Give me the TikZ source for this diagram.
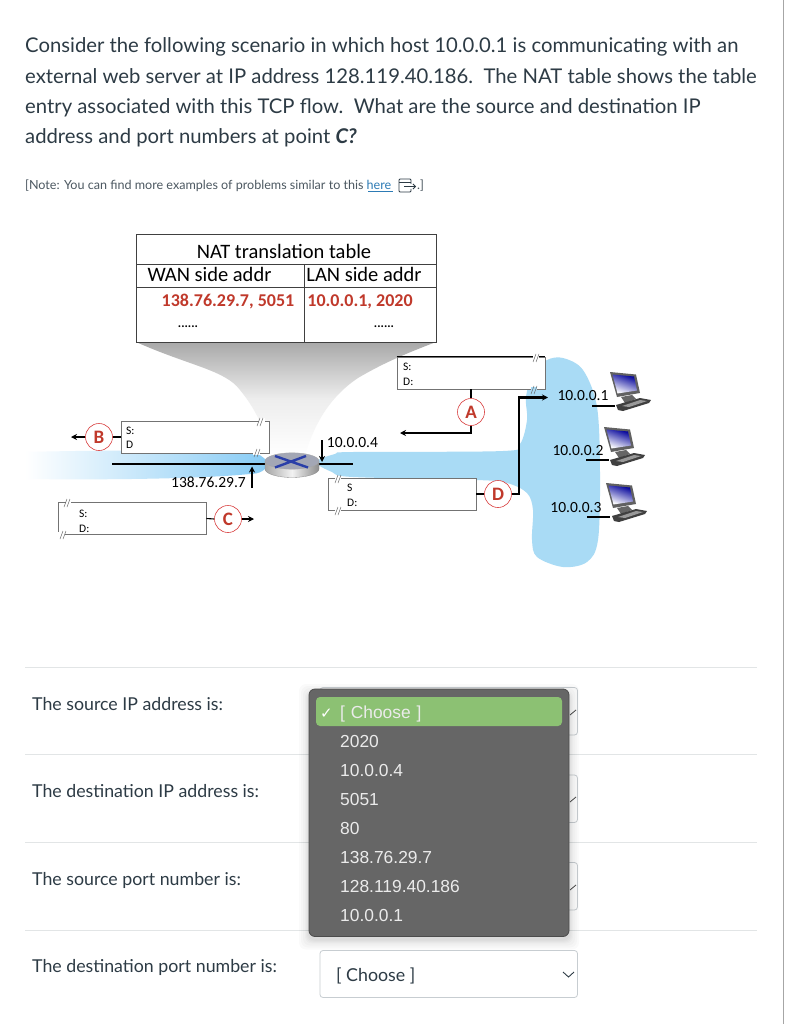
\documentclass[tikz,border=0pt]{standalone}
\usepackage{fontspec}
\setmainfont{Lato}
\newfontfamily\calib{Carlito}
\newfontfamily\popfont{Liberation Sans}
\newfontfamily\chkfont{DejaVu Sans}
\usetikzlibrary{calc,arrows.meta,shapes.geometric}
\definecolor{ink}{HTML}{2D3B45}
\definecolor{natred}{HTML}{C0392B}
\definecolor{lanblue}{HTML}{A9DBF5}
\definecolor{wanblue}{HTML}{86CBF5}
\definecolor{sepgray}{HTML}{E2E5E6}
\definecolor{popgray}{HTML}{666666}
\definecolor{okgreen}{HTML}{8CC173}
\definecolor{selbd}{HTML}{C7CDD1}
\definecolor{linkblue}{HTML}{2D7BB5}
\definecolor{rtrtop}{HTML}{A3A7B5}
\definecolor{rtrx}{HTML}{2A3FA8}
\newcommand{\fs}[1]{\fontsize{#1}{#1}\selectfont}
\tikzset{
  para/.style={anchor=base west,inner sep=0pt,text=ink,font=\fs{20.28}},
  quest/.style={anchor=base west,inner sep=0pt,text=ink,font=\fs{17.76}},
  popitem/.style={anchor=base west,inner sep=0pt,text=white!92!black,font=\popfont\fs{17.4}},
  tbl/.style={inner sep=0pt,text=black,font=\calib\fs{20.5}},
  tblred/.style={inner sep=0pt,text=natred,font=\calib\bfseries\fs{18}},
  addr/.style={inner sep=0pt,text=black,font=\calib\fs{15.5}},
  tiny/.style={inner sep=0pt,anchor=base west,text=black,font=\calib\fs{11.5}},
  packet/.style={draw=black!55,line width=.7pt,fill=white,inner sep=0pt,minimum width=148pt,minimum height=32pt},
  pointlet/.style={circle,draw=red!70!white!85!black,line width=.6pt,fill=white,minimum size=27pt,inner sep=0pt,text=natred,font=\calib\bfseries\fs{19}},
  wire/.style={draw=black,line width=1.1pt},
  thick wire/.style={draw=black,line width=2pt},
  tip/.style={-{Stealth[length=6pt,width=6pt]}},
  brk/.style={draw=black!60,line width=.5pt},
  sel/.style={draw=selbd,line width=.8pt,rounded corners=3pt,fill=white},
  sep/.style={draw=sepgray,line width=1pt},
}
\newcommand{\brkmark}[2]{\draw[brk] (#1-2,#2+4)--(#1+1,#2-4) (#1+1,#2+4)--(#1+4,#2-4);}
\newcommand{\computer}[2]{%
 \begin{scope}[shift={(#1,#2)}]
  \fill[black!62] (0,0)--(26,2.5)--(30,21)--(7,25)--cycle;
  \shade[top color=blue!60!black,bottom color=white,shading angle=-20] (2.5,2.5)--(24,4.5)--(27,18.5)--(7.5,21.5)--cycle;
  \fill[black!60] (11,25)--(22,23)--(26,27)--(15,31)--cycle;
  \fill[black!75] (6,33)--(30,26)--(41,28)--(39,31)--(13,39)--(8,38)--cycle;
  \fill[black!40] (12,34)--(30,28)--(37,29)--(19,35)--cycle;
 \end{scope}}
\begin{document}
\begin{tikzpicture}[x=1pt,y=-1pt]
\useasboundingbox (0,0) rectangle (785,1024);
\fill[white] (0,0) rectangle (785,1024);
% page edge
\draw[black!35,line width=1pt] (783.5,0)--(783.5,1024);
% question text
\node[para] (l1) at (25,52.5) {Consider the following scenario in which host 10.0.0.1 is communicating with an};
\node[para] (l2) at (25,83.5) {external web server at IP address 128.119.40.186.\ \ The NAT table shows the table};
\node[para] (l3) at (25,113.5) {entry associated with this TCP flow.\ \ What are the source and destination IP};
\node[para] (l4) at (25,144) {address and port numbers at point \textbf{\textit{C?}}};
\node[anchor=base west,inner sep=0pt,text=ink!85,font=\fs{12.57}] (note) at (25,190) {[Note: You can find more examples of problems similar to this \textcolor{linkblue}{here}};
\draw[linkblue,line width=.7pt] (368,191.5)--(393,191.5);
\draw[ink,line width=.8pt,rounded corners=1pt] (411,184)--(411,179)--(399,179)--(399,192)--(411,192)--(411,189);
\draw[ink,line width=.8pt] (399,182.5)--(411,182.5);
\draw[ink,line width=.8pt,-{Straight Barb[length=2.5pt,width=5pt]}] (404,186.5)--(416,186.5);
\node[anchor=base west,inner sep=0pt,text=ink!85,font=\fs{12.57}] (noteend) at (417,190) {.]};
% funnel
\shade[top color=black!34,bottom color=white,middle color=black!7] (136,342) .. controls (190,366) and (225,370) .. (240,390) .. controls (258,412) and (264,430) .. (272,455) -- (305,455) .. controls (312,432) and (325,400) .. (358,378) .. controls (385,362) and (410,352) .. (436,342) -- cycle;
% blue regions
\shade[left color=white,right color=wanblue] (25,452) .. controls (100,450) and (200,450) .. (255,452) .. controls (262,456) and (266,460) .. (270,463) .. controls (266,470) and (260,474) .. (250,474) .. controls (200,479) and (100,480) .. (25,479) -- cycle;
\fill[lanblue] plot[smooth cycle,tension=.55] coordinates {(316,462)(335,454)(353,452)(503,451)(520,444)(527,420)(526,397)(533,373)(547,360)(563,358)(583,370)(597,407)(600,473)(598,540)(587,562)(563,567)(537,557)(532,540)(533,510)(527,493)(507,483)(477,480)(353,477)(332,472)};
% table
\draw[black!75,line width=.8pt,fill=white] (136,234) rectangle (436,342);
\draw[black!75,line width=.8pt] (136,264.5)--(436,264.5) (136,287)--(436,287) (304,265)--(304,342);
\node[tbl] (title) at (284,251) {NAT translation table};
\node[tbl] (wan) at (209.5,274) {WAN side addr};
\node[tbl] (lan) at (364,274) {LAN side addr};
\node[tblred] (r1) at (228,301.5) {138.76.29.7, 5051};
\node[tblred] (r2) at (360,301.5) {10.0.0.1, 2020};
\node[inner sep=0pt,font=\calib\bfseries\fs{12.5}] (d1) at (188,327) {......};
\node[inner sep=0pt,font=\calib\bfseries\fs{12.5}] (d2) at (384,327) {......};
% links
\coordinate (wanend) at (112,464);
\coordinate (lanend) at (353,464);
\coordinate (rtrL) at (266,464);
\coordinate (rtrR) at (318,464);
\draw[thick wire,line width=2.2pt] (wanend)--(rtrL);
\draw[thick wire,line width=2.2pt] (rtrR)--(lanend);
% router
\node[inner sep=0pt,minimum width=54pt,minimum height=25pt] (router) at (292,465.5) {};
\shade[left color=black!35,right color=black!45,middle color=black!5,draw=black!45,line width=.3pt] (265,461) -- (265,469) arc[start angle=180,end angle=0,x radius=27,y radius=8.5] -- (319,461) -- cycle;
\fill[rtrtop,draw=black!35,line width=.3pt] (292,461) ellipse[x radius=27,y radius=8.2];
\draw[rtrx,line width=2.4pt] (275,456)--(308,467.5) (275,467.5)--(306,456);
% packets
\node[packet] (pB) at (195,437) {};
\node[packet] (pC) at (132,518.5) {};
\node[packet] (pA) at (471,373) {};
\node[packet] (pD) at (402,494) {};
\draw[black,line width=.8pt] (pA.north west)--(pA.north east);
% breaks
\fill[white] (259,418) rectangle (265,424); \brkmark{259}{422}
\fill[white] (253,451) rectangle (260,455); \brkmark{256}{453}
\fill[white] (66,500) rectangle (71,504); \brkmark{66}{503}
\fill[white] (58,532) rectangle (65,537); \brkmark{62}{535}
\fill[white] (533,355) rectangle (539,359); \brkmark{535}{358}
\fill[lanblue] (531,387) rectangle (537,391); \brkmark{533}{390}
\fill[white] (335,476) rectangle (341,480); \brkmark{337}{479}
\fill[white] (335,508) rectangle (341,512); \brkmark{337}{511}
% packet texts
\node[tiny] (sB) at (126,434) {S:};
\node[tiny] (dB) at (126,448) {D};
\node[tiny] (sC) at (79,517) {S:};
\node[tiny] (dC) at (79,532) {D:};
\node[tiny] (sA) at (403,370) {S:};
\node[tiny] (dA) at (403,385) {D:};
\node[tiny] (sD) at (347,491) {S};
\node[tiny] (dD) at (347,506) {D:};
% pointlets
\node[pointlet] (cB) at (99,437) {B};
\node[pointlet] (cC) at (228,519) {C};
\node[pointlet] (cA) at (471,412) {A};
\node[pointlet] (cD) at (498,494) {D};
\coordinate (eB) at (71,437);
\coordinate (eC) at (254,519);
\coordinate (aC) at (400,433);
\coordinate (eD) at (548,397.5);
\draw[wire] (pB.west)--(cB.east);
\draw[wire,tip] (cB.west)--(eB);
\draw[wire] (pC.east)--(cC.west);
\draw[wire,tip] (cC.east)--(eC);
\draw[wire,line width=1.5pt] (pA.south -| cA)--(cA.north);
\draw[thick wire,line width=1.8pt,tip] (cA.south)--(cA.south |- aC)--(aC);
\draw[wire] (pD.east)--(cD.west);
\draw[thick wire,line width=2.2pt,tip] (cD.east)--(519,494)--(519,397.5)--(eD);
% address labels
\node[addr] (a1) at (208.5,482) {138.76.29.7};
\coordinate (ua1) at (252,488);\coordinate (ua2) at (252,466.5);
\draw[wire,tip] (ua1)--(ua2);
\node[addr] (a2) at (352.5,442.5) {10.0.0.4};
\coordinate (da1) at (322,440);\coordinate (da2) at (322,462);
\draw[wire,tip] (da1)--(da2);
\node[addr] (h1) at (583,396) {10.0.0.1};
\node[addr] (h2) at (578,451) {10.0.0.2};
\node[addr] (h3) at (576,508) {10.0.0.3};
\computer{610}{372}
\computer{604}{427}
\computer{606}{483}
\coordinate (u1) at (592,406);\coordinate (v1) at (615,406);
\coordinate (u2) at (586,460);\coordinate (v2) at (609,460);
\coordinate (u3) at (587,517);\coordinate (v3) at (610,517);
\draw[wire] (u1)--(v1);\draw[wire] (u2)--(v2);\draw[wire] (u3)--(v3);
% form rows
\draw[sep] (25,667.5)--(757,667.5);
\draw[sep] (25,754.5)--(757,754.5);
\draw[sep] (25,842.5)--(757,842.5);
\draw[sep] (25,930.5)--(757,930.5);
\node[quest] (q1) at (32,710) {The source IP address is:};
\node[quest] (q2) at (32,797) {The destination IP address is:};
\node[quest] (q3) at (32,885) {The source port number is:};
\node[quest] (q4) at (32,972.5) {The destination port number is:};
\draw[sel] (320,687.5) rectangle (577.5,735);
\draw[sel] (320,775) rectangle (577.5,822.5);
\draw[sel] (320,862.5) rectangle (577.5,910);
\draw[sel] (320,950.5) rectangle (577.5,997.5);
\foreach \yy in {715,802,890}{\draw[black!70,line width=.8pt] (570,\yy)--(576,\yy-5);}
\draw[ink,line width=.9pt] (563,972)--(568.5,977)--(574,972);
\node[anchor=base west,inner sep=0pt,text=ink,font=\fs{17.8}] (ch4) at (336,981) {[ Choose ]};
% popup shadow, built from soft layers
\foreach \gg in {10,8,6,4,3,2,1}{\fill[black,opacity=.018,rounded corners=7pt] (309-\gg,689-\gg+5) rectangle (569+\gg,936.5+\gg+3);}
% popup
\draw[black!70,fill=popgray,line width=.8pt,rounded corners=6pt] (309,689) rectangle (569,936.5);
\fill[okgreen,rounded corners=4pt] (316,697) rectangle (562,726);
\node[inner sep=0pt,anchor=base west,text=white,font=\chkfont\bfseries\fs{15}] (chk) at (320,718) {✓};
\node[popitem] (p0) at (340,718.5) {[\,\,Choose\,\,]};
\node[popitem] (p1) at (340,747) {2020};
\node[popitem] (p2) at (340,776) {10.0.0.4};
\node[popitem] (p3) at (340,805) {5051};
\node[popitem] (p4) at (340,834) {80};
\node[popitem] (p5) at (340,863) {138.76.29.7};
\node[popitem] (p6) at (340,892) {128.119.40.186};
\node[popitem] (p7) at (340,921) {10.0.0.1};
\end{tikzpicture}
\end{document}
